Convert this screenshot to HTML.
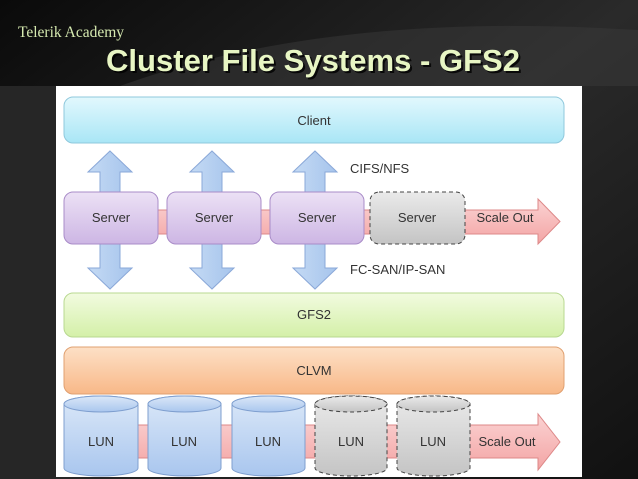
<!DOCTYPE html>
<html><head><meta charset="utf-8"><style>
html,body{margin:0;padding:0;width:638px;height:479px;overflow:hidden;background:#1a1a1a;}
svg{display:block}
</style></head><body>
<svg width="638" height="479" viewBox="0 0 638 479" xmlns="http://www.w3.org/2000/svg">
<defs>
<linearGradient id="bg" x1="0" y1="0" x2="1" y2="1">
<stop offset="0" stop-color="#0a0a0a"/><stop offset="0.5" stop-color="#2a2a2a"/><stop offset="1" stop-color="#111"/>
</linearGradient>
<linearGradient id="cl" x1="0" y1="0" x2="0" y2="1"><stop offset="0" stop-color="#e2f8fd"/><stop offset="1" stop-color="#a9e6f6"/></linearGradient>
<linearGradient id="sv" x1="0" y1="0" x2="0" y2="1"><stop offset="0" stop-color="#ece1f5"/><stop offset="1" stop-color="#cdb6e4"/></linearGradient>
<linearGradient id="gy" x1="0" y1="0" x2="0" y2="1"><stop offset="0" stop-color="#eaeaea"/><stop offset="1" stop-color="#c4c4c4"/></linearGradient>
<linearGradient id="gf" x1="0" y1="0" x2="0" y2="1"><stop offset="0" stop-color="#f2fbe0"/><stop offset="1" stop-color="#d4f0a8"/></linearGradient>
<linearGradient id="cv" x1="0" y1="0" x2="0" y2="1"><stop offset="0" stop-color="#fde0c6"/><stop offset="1" stop-color="#f8b888"/></linearGradient>
<linearGradient id="lu" x1="0" y1="0" x2="0" y2="1"><stop offset="0" stop-color="#dbe8f8"/><stop offset="1" stop-color="#a9c6ee"/></linearGradient>
<linearGradient id="rd" x1="0" y1="0" x2="0" y2="1"><stop offset="0" stop-color="#fbd3d3"/><stop offset="1" stop-color="#f3a4a4"/></linearGradient>
<linearGradient id="bl" x1="0" y1="0" x2="1" y2="0"><stop offset="0" stop-color="#c4daf4"/><stop offset="1" stop-color="#a6c4ec"/></linearGradient>
</defs>
<rect width="638" height="479" fill="url(#bg)"/>
<path d="M120 86 Q330 10 638 30 L638 86 Z" fill="#3a3a3a" opacity="0.5"/>
<rect x="0" y="86" width="56" height="393" fill="#262626"/>
<text x="18" y="37" font-family="Liberation Serif, serif" font-size="16" fill="#d6eab0" textLength="106" lengthAdjust="spacingAndGlyphs">Telerik Academy</text>
<text x="106" y="71" font-family="Liberation Sans, sans-serif" font-size="31" font-weight="bold" fill="#000" opacity="0.8" transform="translate(2,2)" textLength="414" lengthAdjust="spacingAndGlyphs">Cluster File Systems -  GFS2</text>
<text x="106" y="71" font-family="Liberation Sans, sans-serif" font-size="31" font-weight="bold" fill="#e8f6c4" textLength="414" lengthAdjust="spacingAndGlyphs">Cluster File Systems -  GFS2</text>
<rect x="56" y="86" width="526" height="391" fill="#fff"/>
<g font-family="Liberation Sans, sans-serif" font-size="13" fill="#333" text-anchor="middle">
<rect x="64" y="97" width="500" height="46" rx="9" fill="url(#cl)" stroke="#8fc8dc"/>
<text x="314" y="125">Client</text>
<path d="M110 210 H538 V199 L560 221.5 L538 244 V234 H110 Z" fill="url(#rd)" stroke="#d88"/>
<g fill="url(#bl)" stroke="#8aa8d8">
<path d="M110 151 L132 172 H120 V268 H132 L110 289 L88 268 H100 V172 H88 Z"/>
<path d="M212 151 L234 172 H222 V268 H234 L212 289 L190 268 H202 V172 H190 Z"/>
<path d="M315 151 L337 172 H325 V268 H337 L315 289 L293 268 H305 V172 H293 Z"/>
</g>
<rect x="64" y="192" width="94" height="52" rx="9" fill="url(#sv)" stroke="#a98cc8"/>
<rect x="167" y="192" width="94" height="52" rx="9" fill="url(#sv)" stroke="#a98cc8"/>
<rect x="270" y="192" width="94" height="52" rx="9" fill="url(#sv)" stroke="#a98cc8"/>
<rect x="370" y="192" width="95" height="52" rx="9" fill="url(#gy)" stroke="#444" stroke-dasharray="4,3"/>
<text x="111" y="222">Server</text><text x="214" y="222">Server</text><text x="317" y="222">Server</text><text x="417" y="222">Server</text>
<text x="505" y="222">Scale Out</text>
<text x="350" y="173" text-anchor="start">CIFS/NFS</text>
<text x="350" y="274" text-anchor="start">FC-SAN/IP-SAN</text>
<rect x="64" y="293" width="500" height="44" rx="9" fill="url(#gf)" stroke="#b8d890"/>
<text x="314" y="319">GFS2</text>
<rect x="64" y="347" width="500" height="47" rx="9" fill="url(#cv)" stroke="#e0a070"/>
<text x="314" y="375">CLVM</text>
<path d="M64 425 H538 V414 L560 442 L538 470 V458 H64 Z" fill="url(#rd)" stroke="#d88"/>
<g fill="url(#lu)" stroke="#7f9fcf">
<path d="M64 404 V468 A37 8 0 0 0 138 468 V404 A37 8 0 0 0 64 404 Z"/><ellipse cx="101" cy="404" rx="37" ry="8"/>
<path d="M148 404 V468 A36.5 8 0 0 0 221 468 V404 A36.5 8 0 0 0 148 404 Z"/><ellipse cx="184.5" cy="404" rx="36.5" ry="8"/>
<path d="M232 404 V468 A36.5 8 0 0 0 305 468 V404 A36.5 8 0 0 0 232 404 Z"/><ellipse cx="268.5" cy="404" rx="36.5" ry="8"/>
</g>
<g fill="url(#gy)" stroke="#444" stroke-dasharray="4,3">
<path d="M315 404 V468 A36 8 0 0 0 387 468 V404 A36 8 0 0 0 315 404 Z"/><ellipse cx="351" cy="404" rx="36" ry="8"/>
<path d="M397 404 V468 A36.5 8 0 0 0 470 468 V404 A36.5 8 0 0 0 397 404 Z"/><ellipse cx="433.5" cy="404" rx="36.5" ry="8"/>
</g>
<text x="101" y="446">LUN</text><text x="184" y="446">LUN</text><text x="268" y="446">LUN</text><text x="351" y="446">LUN</text><text x="433" y="446">LUN</text>
<text x="507" y="446">Scale Out</text>
</g>
</svg>
</body></html>
